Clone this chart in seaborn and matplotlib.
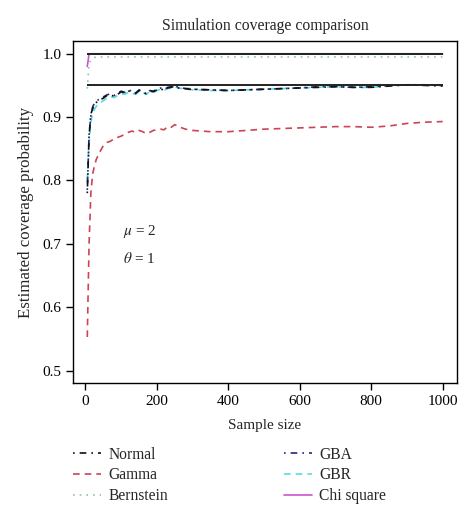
import matplotlib
matplotlib.use("Agg")
import matplotlib.pyplot as plt
import seaborn as sns

sample_size = [5, 10, 15, 20, 25, 30, 40, 50, 60, 70, 80, 90, 100, 110, 120, 130, 140, 150,
               160, 170, 180, 190, 200, 210, 220, 230, 240, 250, 260, 270, 280, 290, 300,
               350, 400, 450, 500, 550, 600, 650, 700, 750, 800, 850, 900, 950, 1000]

normal = [0.780, 0.870, 0.905, 0.913, 0.920, 0.923, 0.927, 0.930, 0.934, 0.935, 0.933, 0.936,
          0.940, 0.938, 0.941, 0.940, 0.938, 0.942, 0.940, 0.937, 0.941, 0.940, 0.943, 0.945,
          0.942, 0.946, 0.947, 0.949, 0.946, 0.945, 0.945, 0.944, 0.944, 0.943, 0.942, 0.943,
          0.944, 0.945, 0.946, 0.947, 0.948, 0.947, 0.947, 0.949, 0.951, 0.950, 0.949]
gba = [0.785, 0.872, 0.902, 0.916, 0.922, 0.925, 0.929, 0.932, 0.935, 0.937, 0.934, 0.938,
       0.941, 0.939, 0.943, 0.941, 0.937, 0.943, 0.941, 0.936, 0.942, 0.941, 0.944, 0.946,
       0.943, 0.947, 0.948, 0.950, 0.947, 0.946, 0.945, 0.945, 0.944, 0.943, 0.942, 0.943,
       0.944, 0.945, 0.946, 0.948, 0.948, 0.947, 0.948, 0.950, 0.951, 0.951, 0.950]
gbr = [0.800, 0.860, 0.893, 0.905, 0.912, 0.917, 0.922, 0.926, 0.930, 0.932, 0.931, 0.934,
       0.937, 0.936, 0.939, 0.938, 0.936, 0.940, 0.939, 0.936, 0.940, 0.939, 0.942, 0.944,
       0.942, 0.945, 0.946, 0.948, 0.946, 0.945, 0.944, 0.944, 0.943, 0.942, 0.942, 0.943,
       0.944, 0.945, 0.946, 0.947, 0.948, 0.947, 0.947, 0.949, 0.951, 0.951, 0.950]
gamma = [0.553, 0.700, 0.780, 0.810, 0.823, 0.833, 0.845, 0.855, 0.860, 0.862, 0.866, 0.868,
         0.870, 0.873, 0.876, 0.878, 0.876, 0.879, 0.877, 0.874, 0.876, 0.879, 0.880, 0.881,
         0.880, 0.885, 0.884, 0.888, 0.886, 0.883, 0.881, 0.880, 0.879, 0.877, 0.877, 0.879,
         0.881, 0.882, 0.883, 0.884, 0.885, 0.885, 0.884, 0.886, 0.890, 0.892, 0.893]
bernstein = [0.945, 0.985, 0.990, 0.993, 0.994] + [0.995] * 42
chi_square = [0.980] + [1.0] * 46

nominal_levels = [0.95, 1.0]

sns.set_theme(style="ticks")
plt.rcParams["font.family"] = ["Liberation Serif", "DejaVu Serif"]
plt.rcParams["mathtext.fontset"] = "stix"

fig = plt.figure(figsize=(4.74, 5.2), dpi=100)
ax = fig.add_axes([0.154, 0.263, 0.810, 0.658])

series = [
    ("GBR", gbr, "#55dede", (0, (4, 3))),
    ("GBA", gba, "#26267a", (0, (1, 3, 4, 3))),
    ("Normal", normal, "#111111", (0, (1, 3, 4, 3))),
    ("Gamma", gamma, "#cc4455", (0, (4, 3))),
    ("Bernstein", bernstein, "#8cc79a", (0, (1, 3))),
    ("Chi square", chi_square, "#cc55cc", "-"),
]
handles = {}
for name, vals, color, ls in series:
    sns.lineplot(x=sample_size, y=vals, ax=ax, color=color, lw=1.2, linestyle=ls, label=name, zorder=2)
    handles[name] = ax.get_lines()[-1]
ax.get_legend().remove()

# nominal levels drawn over the curves, over the simulated range only
for lvl in nominal_levels:
    ax.hlines(lvl, sample_size[0], sample_size[-1], color="#222222", lw=1.4, zorder=3)

ax.set_xlim(-35, 1040)
ax.set_ylim(0.48, 1.02)
ax.set_xticks([0, 200, 400, 600, 800, 1000])
ax.set_yticks([0.5, 0.6, 0.7, 0.8, 0.9, 1.0])
ax.set_yticklabels(["0.5", "0.6", "0.7", "0.8", "0.9", "1.0"])
ax.tick_params(labelsize=11, length=5, width=1, colors="black", direction="out")
for s in ax.spines.values():
    s.set_visible(True)
    s.set_color("black")
    s.set_linewidth(1)

ax.set_xlabel("Sample size", fontsize=11, labelpad=8)
ax.set_ylabel("Estimated coverage probability", fontsize=12.2, labelpad=6)
ax.set_title("Simulation coverage comparison", fontsize=11.3, pad=8)

ax.text(104, 0.72, r"$\mu$ = 2", fontsize=11, va="center", ha="left")
ax.text(104, 0.677, r"$\theta$ = 1", fontsize=11, va="center", ha="left")

order = ["Normal", "Gamma", "Bernstein", "GBA", "GBR", "Chi square"]
fig.legend([handles[k] for k in order], order, loc="upper left", bbox_to_anchor=(0.154, 0.141),
           ncol=2, frameon=False, fontsize=11.2, handlelength=1.8, handletextpad=0.5,
           columnspacing=7.4, labelspacing=0.3, borderpad=0, borderaxespad=0)

fig.savefig("out.png", dpi=100)
